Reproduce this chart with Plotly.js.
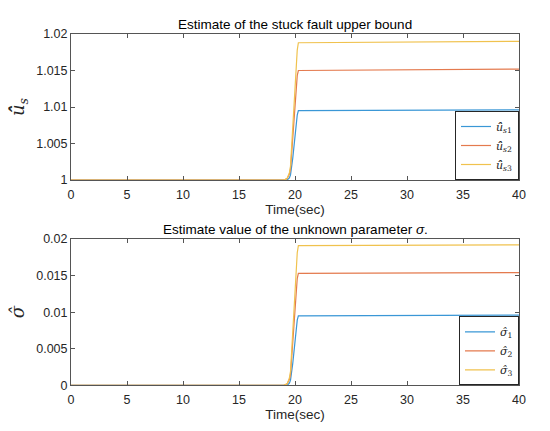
<!DOCTYPE html>
<html>
<head>
<meta charset="utf-8">
<script src="https://cdn.plot.ly/plotly-3.0.1.min.js"></script>
<style>
html,body{margin:0;padding:0;background:#fff;}
#chart{width:550px;height:431px;}
</style>
</head>
<body>
<div id="chart"></div>
<script>
// Time samples (sec)
const time = [0, 19, 19.3, 19.5, 19.6, 19.8, 20.0, 20.2, 20.3, 25, 30, 35, 40];

// Estimate of the stuck fault upper bound
const us1 = [1, 1, 1.0000, 1.0003, 1.0007, 1.0030, 1.0062, 1.0089, 1.0095, 1.00952, 1.00955, 1.00958, 1.0096];
const us2 = [1, 1, 1.0002, 1.0008, 1.0015, 1.0060, 1.0105, 1.0143, 1.0150, 1.01505, 1.0151, 1.01512, 1.0152];
const us3 = [1, 1, 1.0002, 1.0010, 1.0019, 1.0075, 1.0132, 1.0178, 1.0188, 1.01885, 1.0189, 1.01895, 1.0190];

// Estimate of unknown parameter sigma
const sig1 = [0, 0, 0.0000, 0.0003, 0.0007, 0.0030, 0.0062, 0.0089, 0.0095, 0.00952, 0.00955, 0.00958, 0.0096];
const sig2 = [0, 0, 0.0002, 0.0008, 0.0015, 0.0061, 0.0107, 0.0146, 0.0153, 0.01532, 0.01535, 0.01538, 0.0154];
const sig3 = [0, 0, 0.0002, 0.0010, 0.0019, 0.0076, 0.0134, 0.0181, 0.0191, 0.01912, 0.01915, 0.01918, 0.0192];

// Tick labels
const xTicks = [0, 5, 10, 15, 20, 25, 30, 35, 40];
const y1Ticks = [1, 1.005, 1.01, 1.015, 1.02];
const y1Labels = ["1", "1.005", "1.01", "1.015", "1.02"];
const y2Ticks = [0, 0.005, 0.01, 0.015, 0.02];
const y2Labels = ["0", "0.005", "0.01", "0.015", "0.02"];

const uhh = "\u00FB\u0302";
const names1 = ["<i>" + uhh + "</i><sub><i>s</i>1</sub>", "<i>" + uhh + "</i><sub><i>s</i>2</sub>", "<i>" + uhh + "</i><sub><i>s</i>3</sub>"];
const names2 = ["<i>σ̂</i><sub>1</sub>", "<i>σ̂</i><sub>2</sub>", "<i>σ̂</i><sub>3</sub>"];
const colors = ["#3A97D6", "#E47A4E", "#F0C24E"];

const serif = "DejaVu Serif, Liberation Serif, serif";
const sans = "Liberation Sans, Arial, sans-serif";

const topSeries = [us1, us2, us3];
const botSeries = [sig1, sig2, sig3];
const traces = [];
topSeries.forEach((v, i) => traces.push({
  x: time, y: v, type: "scatter", mode: "lines", name: names1[i],
  line: {color: colors[i], width: 1.2}, xaxis: "x", yaxis: "y", legend: "legend"
}));
botSeries.forEach((v, i) => traces.push({
  x: time, y: v, type: "scatter", mode: "lines", name: names2[i],
  line: {color: colors[i], width: 1.2}, xaxis: "x2", yaxis: "y2", legend: "legend2"
}));

const axisCommon = {
  showgrid: false, zeroline: false, showline: true, mirror: "ticks",
  linecolor: "#555", linewidth: 1, ticks: "inside", ticklen: 4,
  tickcolor: "#555", tickfont: {family: sans, size: 12.5, color: "#262626"}
};

const X0 = 71/550, X1 = 519/550;
const legendCommon = {
  xanchor: "right", yanchor: "bottom", bgcolor: "#fff",
  bordercolor: "#262626", borderwidth: 1,
  font: {family: serif, size: 11, color: "#262626"},
  itemwidth: 30, tracegroupgap: 0
};

const layout = {
  width: 550, height: 431,
  margin: {l: 0, r: 0, t: 0, b: 0},
  paper_bgcolor: "#fff", plot_bgcolor: "#fff",
  showlegend: true,
  xaxis: Object.assign({}, axisCommon, {
    domain: [X0, X1], range: [0, 40], tickvals: xTicks, anchor: "y", ticklabelstandoff: 3,
    title: {text: "Time(sec)", font: {family: sans, size: 13.5, color: "#262626"}, standoff: 3}
  }),
  yaxis: Object.assign({}, axisCommon, {
    domain: [1 - 180/431, 1 - 34/431], range: [1, 1.02],
    tickvals: y1Ticks, ticktext: y1Labels, anchor: "x",
    title: {text: "<i>" + uhh + "</i><sub><i>s</i></sub>", font: {family: serif, size: 18, color: "#262626"}, standoff: 6}
  }),
  xaxis2: Object.assign({}, axisCommon, {
    domain: [X0, X1], range: [0, 40], tickvals: xTicks, anchor: "y2", ticklabelstandoff: 3,
    title: {text: "Time(sec)", font: {family: sans, size: 13.5, color: "#262626"}, standoff: 3}
  }),
  yaxis2: Object.assign({}, axisCommon, {
    domain: [1 - 385.3/431, 1 - 239/431], range: [0, 0.02],
    tickvals: y2Ticks, ticktext: y2Labels, anchor: "x2",
    title: {text: "<i>σ̂</i>", font: {family: serif, size: 18, color: "#262626"}, standoff: 6}
  }),
  legend: Object.assign({}, legendCommon, {x: X1, y: 1 - 180/431}),
  legend2: Object.assign({}, legendCommon, {x: X1, y: 1 - 385.3/431}),
  annotations: [
    {text: "Estimate of the stuck fault upper bound", xref: "paper", yref: "paper",
     x: (X0 + X1)/2, y: 1 - 24/431, xanchor: "center", yanchor: "middle", showarrow: false,
     font: {family: sans, size: 13.5, color: "#000"}},
    {text: "Estimate value of the unknown parameter <i>σ</i>.", xref: "paper", yref: "paper",
     x: (X0 + X1)/2, y: 1 - 230/431, xanchor: "center", yanchor: "middle", showarrow: false,
     font: {family: sans, size: 13.5, color: "#000"}}
  ]
};

Plotly.newPlot("chart", traces, layout, {displayModeBar: false, staticPlot: true});
</script>
</body>
</html>
